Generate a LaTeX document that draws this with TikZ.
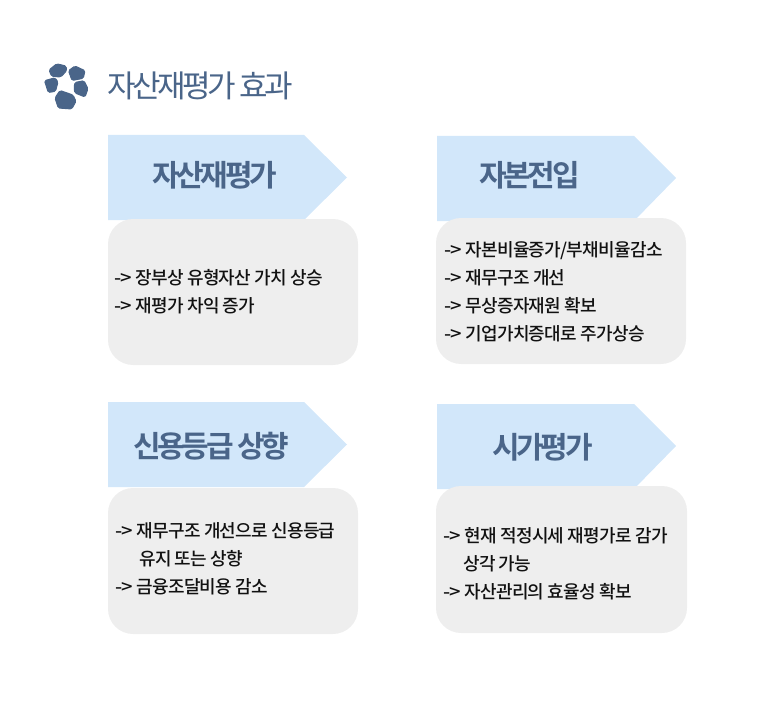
\documentclass[tikz,border=0pt]{standalone}
\usepackage{graphicx}
\usepackage{fontspec}
\setmainfont{Noto Sans CJK KR}
\newfontfamily\ttlfont[LetterSpace=-11]{Noto Sans CJK KR}
\newfontfamily\hdfont[LetterSpace=-11]{Noto Sans CJK KR Bold}
\newfontfamily\bodyfont[LetterSpace=-4]{Noto Sans CJK KR Medium}
\definecolor{slateT}{HTML}{4A6589}
\definecolor{paleB}{HTML}{D2E7FA}
\definecolor{paleG}{HTML}{EEEEEE}
\definecolor{inkK}{HTML}{111111}
\newcommand{\arr}{\scalebox{1.12}[1]{->}\hspace{0.2pt} }
\tikzset{x=1pt,y=-1pt,
 blob/.style={fill=slateT,draw=slateT,line width=1pt,rounded corners=1.5pt},
 panel/.style={fill=paleG,rounded corners=25pt},
 arrowbox/.style={fill=paleB},
 headtxt/.style={anchor=west,inner sep=0,text=slateT,font=\hdfont\fontsize{30}{30}\selectfont},
 bodytxt/.style={anchor=base west,inner sep=0,text=inkK,font=\bodyfont\fontsize{18}{18}\selectfont},
}
\begin{document}
\begin{tikzpicture}
\useasboundingbox (0,0) rectangle (764,701);
% icon
\path[blob] (49,70) -- (56.7,63.8) -- (66,66) -- (66.7,70.7) -- (60.7,77) -- (51.7,76.3) -- cycle;
\path[blob] (68.5,70.7) -- (75,66) -- (85,70.7) -- (83.3,78.3) -- (72,80.5) -- cycle;
\path[blob] (75,82.5) -- (84,80.7) -- (88,88.7) -- (85,97) -- (75,93) -- (74,88) -- cycle;
\path[blob] (60,90.5) -- (73,95) -- (76,101.3) -- (71.7,109) -- (58.3,108) -- (55,98) -- cycle;
\path[blob] (44.5,80.7) -- (55,77.8) -- (58,82) -- (55.5,91.3) -- (48.3,92.5) -- cycle;
\node[anchor=west,inner sep=0,text=slateT,font=\ttlfont\fontsize{31}{31}\selectfont] (title) at (107,86) {자산재평가 효과};
% panel 1
\fill[arrowbox] (108,135) -- (304,135) -- (347,177.5) -- (304,220) -- (108,220) -- cycle;
\fill[panel] (108,219) rectangle (358,365);
\node[headtxt] (h1) at (152,175) {자산재평가};
\node[bodytxt] (a1) at (114,284) {\arr 장부상 유형자산 가치 상승};
\node[bodytxt] (a2) at (114,312) {\arr 재평가 차익 증가};
% panel 2
\fill[arrowbox] (437,136) -- (634,136) -- (676,178) -- (634,221) -- (437,221) -- cycle;
\fill[panel] (436,218) rectangle (686,364);
\node[headtxt] (h2) at (479,175) {자본전입};
\node[bodytxt] (b1) at (444,256) {\arr 자본비율증가/부채비율감소};
\node[bodytxt] (b2) at (444,284) {\arr 재무구조 개선};
\node[bodytxt] (b3) at (444,312) {\arr 무상증자재원 확보};
\node[bodytxt] (b4) at (444,340) {\arr 기업가치증대로 주가상승};
% panel 3
\fill[arrowbox] (108,402) -- (304,402) -- (347,444.5) -- (304,487) -- (108,487) -- cycle;
\fill[panel] (108,488) rectangle (358,634);
\node[headtxt] (h3) at (133,446) {신용등급 상향};
\node[bodytxt] (c1) at (115,537) {\arr 재무구조 개선으로 신용등급};
\node[bodytxt] (c2) at (139,565) {유지 또는 상향};
\node[bodytxt] (c3) at (115,593) {\arr 금융조달비용 감소};
% panel 4
\fill[arrowbox] (437,404) -- (634,404) -- (676,446) -- (634,489) -- (437,489) -- cycle;
\fill[panel] (436,486) rectangle (687,633);
\node[headtxt] (h4) at (492,447) {시가평가};
\node[bodytxt] (d1) at (443,542) {\arr 현재 적정시세 재평가로 감가};
\node[bodytxt] (d2) at (463,570) {상각 가능};
\node[bodytxt] (d3) at (443,598) {\arr 자산관리의 효율성 확보};
\end{tikzpicture}
\end{document}
